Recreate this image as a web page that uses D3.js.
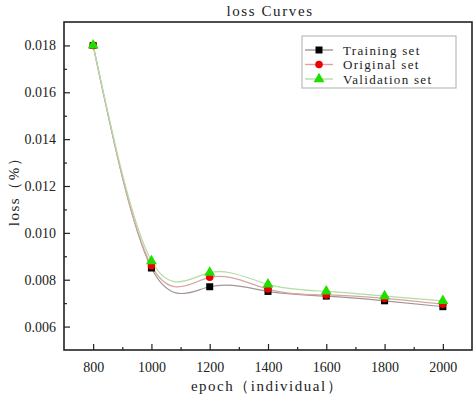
<!DOCTYPE html>
<html>
<head>
<meta charset="utf-8">
<script src="https://cdn.jsdelivr.net/npm/d3@7"></script>
<style>
  body { margin: 0; background: #fff; }
  text { fill: #222; }
</style>
</head>
<body>
<div id="chart"></div>
<script>
// data
var epochs = [800, 1000, 1200, 1400, 1600, 1800, 2000];
var trainingLoss = [0.0180, 0.0085, 0.0077, 0.0075, 0.0073, 0.0071, 0.00685];
var originalLoss = [0.0180, 0.0086, 0.0081, 0.0076, 0.00735, 0.0072, 0.00695];
var validationLoss = [0.0180, 0.0088, 0.0083, 0.0078, 0.0075, 0.0073, 0.0071];
var xTicks = [800, 1000, 1200, 1400, 1600, 1800, 2000];
var yTicks = [0.006, 0.008, 0.010, 0.012, 0.014, 0.016, 0.018];
var seriesNames = ["Training set", "Original set", "Validation set"];

var W = 474, H = 395;
var margin = { top: 22, right: 2, bottom: 45, left: 64 };
var width = W - margin.left - margin.right,
    height = H - margin.top - margin.bottom;

var svg = d3.select("#chart").append("svg")
  .attr("width", W).attr("height", H);

var g = svg.append("g")
  .attr("transform", "translate(" + margin.left + "," + margin.top + ")");

var x = d3.scaleLinear().domain([700, 2100]).range([0, width]);
var y = d3.scaleLinear().domain([0.005, 0.019]).range([height, 0]);

var series = [
  { name: seriesNames[0], values: trainingLoss, line: "#a49494", fill: "#000", shape: "square" },
  { name: seriesNames[1], values: originalLoss, line: "#dba4a4", fill: "#ee0000", shape: "circle" },
  { name: seriesNames[2], values: validationLoss, line: "#b0dea2", fill: "#22dd00", shape: "triangle" }
];

var line = d3.line()
  .x(function (d) { return x(d.e); })
  .y(function (d) { return y(d.v); })
  .curve(d3.curveNatural);

function pts(s) {
  return epochs.map(function (e, i) { return { e: e, v: s.values[i] }; });
}

// smooth curves
series.forEach(function (s) {
  g.append("path")
    .datum(pts(s))
    .attr("fill", "none")
    .attr("stroke", s.line)
    .attr("stroke-width", 1.2)
    .attr("d", line);
});

var symbols = {
  square: d3.symbol().type(d3.symbolSquare).size(49),
  circle: d3.symbol().type(d3.symbolCircle).size(44),
  triangle: d3.symbol().type(d3.symbolTriangle).size(52)
};

series.forEach(function (s) {
  g.selectAll(null)
    .data(pts(s))
    .enter().append("path")
    .attr("d", symbols[s.shape])
    .attr("fill", s.fill)
    .attr("transform", function (d) {
      return "translate(" + x(d.e) + "," + y(d.v) + ")";
    });
});

// axes with inward ticks
var xAxis = d3.axisBottom(x).tickValues(xTicks).tickSizeInner(-6).tickSizeOuter(0).tickPadding(12).tickFormat(d3.format("d"));
var xMinor = d3.axisBottom(x).tickValues(d3.range(900, 2100, 200)).tickSizeInner(-3).tickSizeOuter(0).tickFormat("");
var yAxis = d3.axisLeft(y).tickValues(yTicks).tickSizeInner(-6).tickSizeOuter(0).tickPadding(8).tickFormat(d3.format(".3f"));
var yMinor = d3.axisLeft(y).tickValues([0.007, 0.009, 0.011, 0.013, 0.015, 0.017]).tickSizeInner(-3).tickSizeOuter(0).tickFormat("");

function styleAxis(sel) {
  sel.select(".domain").remove();
  sel.selectAll("line").attr("stroke", "#222").attr("stroke-width", 1.2);
  sel.selectAll("text")
    .style("font-family", "'Liberation Serif', 'DejaVu Serif', serif")
    .style("font-size", "14px")
    .attr("fill", "#444");
}

g.append("g").attr("transform", "translate(0," + height + ")").call(xAxis).call(styleAxis);
g.append("g").attr("transform", "translate(0," + height + ")").call(xMinor).call(styleAxis);
g.append("g").call(yAxis).call(styleAxis);
g.append("g").call(yMinor).call(styleAxis);

// frame
g.append("rect")
  .attr("width", width).attr("height", height)
  .attr("fill", "none").attr("stroke", "#222").attr("stroke-width", 1.6);

// title and axis labels (serif, spaced out like the original mono serif face)
var serif = "'Liberation Serif', 'DejaVu Serif', serif";
svg.append("text")
  .attr("x", margin.left + width / 2 + 2).attr("y", 16)
  .attr("text-anchor", "middle")
  .style("font-family", serif).style("font-size", "15px")
  .style("letter-spacing", "1.6px")
  .text("loss Curves");

svg.append("text")
  .attr("x", margin.left + width / 2 - 1).attr("y", 391)
  .attr("text-anchor", "middle")
  .style("font-family", serif).style("font-size", "15px")
  .style("letter-spacing", "1.5px")
  .text("epoch（individual）");

svg.append("text")
  .attr("transform", "translate(19," + (margin.top + height / 2 + 2) + ") rotate(-90)")
  .attr("text-anchor", "middle")
  .style("font-family", serif).style("font-size", "15px")
  .style("letter-spacing", "1.5px")
  .text("loss（%）");

// legend
var legend = svg.append("g").attr("transform", "translate(302,36)");
legend.append("rect")
  .attr("width", 154).attr("height", 52)
  .attr("fill", "#fff").attr("stroke", "#bbb").attr("stroke-width", 1.2);

series.forEach(function (s, i) {
  var ly = 14 + i * 14.5;
  var row = legend.append("g").attr("transform", "translate(0," + ly + ")");
  row.append("line")
    .attr("x1", 3).attr("x2", 31)
    .attr("stroke", s.line).attr("stroke-width", 1.4);
  row.append("path")
    .attr("d", symbols[s.shape])
    .attr("fill", s.fill)
    .attr("transform", "translate(17,0)");
  row.append("text")
    .attr("x", 41).attr("dy", "0.35em")
    .style("font-family", serif).style("font-size", "13px")
    .style("letter-spacing", "1.3px")
    .text(s.name);
});
</script>
</body>
</html>
